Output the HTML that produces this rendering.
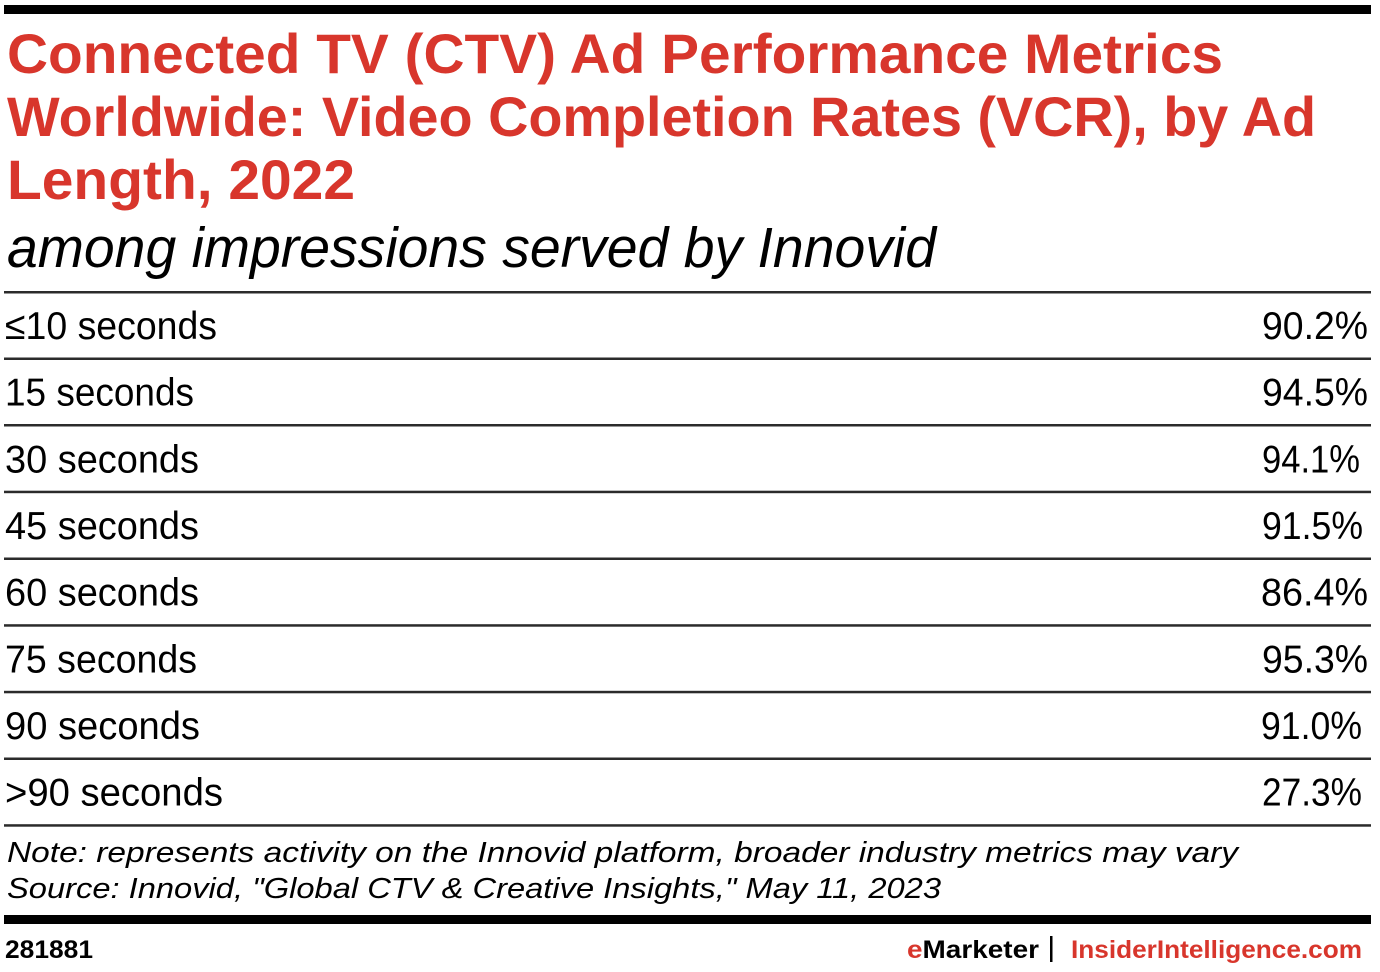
<!DOCTYPE html>
<html>
<head>
<meta charset="utf-8">
<style>
  html, body { margin: 0; padding: 0; background: #fff; }
  body { width: 1380px; height: 972px; overflow: hidden; }
  svg { display: block; }
  .t { font-family: "Liberation Sans", sans-serif; font-weight: bold; fill: #d8362c; font-size: 56px; }
  .sub { font-family: "Liberation Sans", sans-serif; font-style: italic; fill: #000; font-size: 57px; }
  .row { font-family: "Liberation Sans", sans-serif; fill: #000; font-size: 39px; }
  .note { font-family: "Liberation Sans", sans-serif; font-style: italic; fill: #000; font-size: 29px; }
  .ft { font-family: "Liberation Sans", sans-serif; font-weight: bold; font-size: 25px; }
</style>
</head>
<body>
<svg width="1380" height="972" viewBox="0 0 1380 972" xmlns="http://www.w3.org/2000/svg">
  <rect x="0" y="0" width="1380" height="972" fill="#fff"/>
  <!-- top bar -->
  <rect x="4" y="5" width="1367" height="9" fill="#000"/>

  <!-- title -->
  <text class="t" x="7" y="73" textLength="1216" lengthAdjust="spacingAndGlyphs">Connected TV (CTV) Ad Performance Metrics</text>
  <text class="t" x="7" y="136" textLength="1309" lengthAdjust="spacingAndGlyphs">Worldwide: Video Completion Rates (VCR), by Ad</text>
  <text class="t" x="7" y="199" textLength="348" lengthAdjust="spacingAndGlyphs">Length, 2022</text>

  <!-- subtitle -->
  <text class="sub" x="7" y="267" textLength="929" lengthAdjust="spacingAndGlyphs">among impressions served by Innovid</text>

  <!-- separators -->
  <g fill="#2b2b2b">
    <rect x="4" y="291" width="1367" height="2.5"/>
    <rect x="4" y="357.5" width="1367" height="2.5"/>
    <rect x="4" y="424" width="1367" height="2.5"/>
    <rect x="4" y="490.7" width="1367" height="2.5"/>
    <rect x="4" y="557.5" width="1367" height="2.5"/>
    <rect x="4" y="624.2" width="1367" height="2.5"/>
    <rect x="4" y="690.8" width="1367" height="2.5"/>
    <rect x="4" y="757.5" width="1367" height="2.5"/>
    <rect x="4" y="824.2" width="1367" height="2.5"/>
  </g>

  <!-- rows -->
  <g class="row">
    <text x="5" y="339" textLength="212" lengthAdjust="spacingAndGlyphs">≤10 seconds</text>
    <text x="1262" y="339" textLength="106" lengthAdjust="spacingAndGlyphs">90.2%</text>

    <text x="5" y="405.7" textLength="189" lengthAdjust="spacingAndGlyphs">15 seconds</text>
    <text x="1262" y="405.7" textLength="106" lengthAdjust="spacingAndGlyphs">94.5%</text>

    <text x="5" y="472.3" textLength="194" lengthAdjust="spacingAndGlyphs">30 seconds</text>
    <text x="1262" y="472.3" textLength="98" lengthAdjust="spacingAndGlyphs">94.1%</text>

    <text x="5" y="539" textLength="194" lengthAdjust="spacingAndGlyphs">45 seconds</text>
    <text x="1262" y="539" textLength="101" lengthAdjust="spacingAndGlyphs">91.5%</text>

    <text x="5" y="605.7" textLength="194" lengthAdjust="spacingAndGlyphs">60 seconds</text>
    <text x="1261" y="605.7" textLength="107" lengthAdjust="spacingAndGlyphs">86.4%</text>

    <text x="5" y="672.3" textLength="192" lengthAdjust="spacingAndGlyphs">75 seconds</text>
    <text x="1262" y="672.3" textLength="106" lengthAdjust="spacingAndGlyphs">95.3%</text>

    <text x="5" y="739" textLength="195" lengthAdjust="spacingAndGlyphs">90 seconds</text>
    <text x="1261" y="739" textLength="101" lengthAdjust="spacingAndGlyphs">91.0%</text>

    <text x="5" y="805.7" textLength="218" lengthAdjust="spacingAndGlyphs">&gt;90 seconds</text>
    <text x="1262" y="805.7" textLength="100" lengthAdjust="spacingAndGlyphs">27.3%</text>
  </g>

  <!-- notes -->
  <text class="note" x="7" y="862" textLength="1231" lengthAdjust="spacingAndGlyphs">Note: represents activity on the Innovid platform, broader industry metrics may vary</text>
  <text class="note" x="7" y="898" textLength="934" lengthAdjust="spacingAndGlyphs">Source: Innovid, "Global CTV &amp; Creative Insights," May 11, 2023</text>

  <!-- bottom bar -->
  <rect x="4" y="915" width="1367" height="9" fill="#000"/>

  <!-- footer -->
  <text class="ft" x="5" y="958" fill="#000" font-size="26" textLength="88" lengthAdjust="spacingAndGlyphs">281881</text>
  <text class="ft" x="907" y="958" textLength="132" lengthAdjust="spacingAndGlyphs"><tspan fill="#d8362c">e</tspan><tspan fill="#000">Marketer</tspan></text>
  <rect x="1050" y="936" width="2.5" height="26" fill="#000"/>
  <text class="ft" x="1071" y="958" fill="#d8362c" textLength="291" lengthAdjust="spacingAndGlyphs">InsiderIntelligence.com</text>
</svg>
</body>
</html>
